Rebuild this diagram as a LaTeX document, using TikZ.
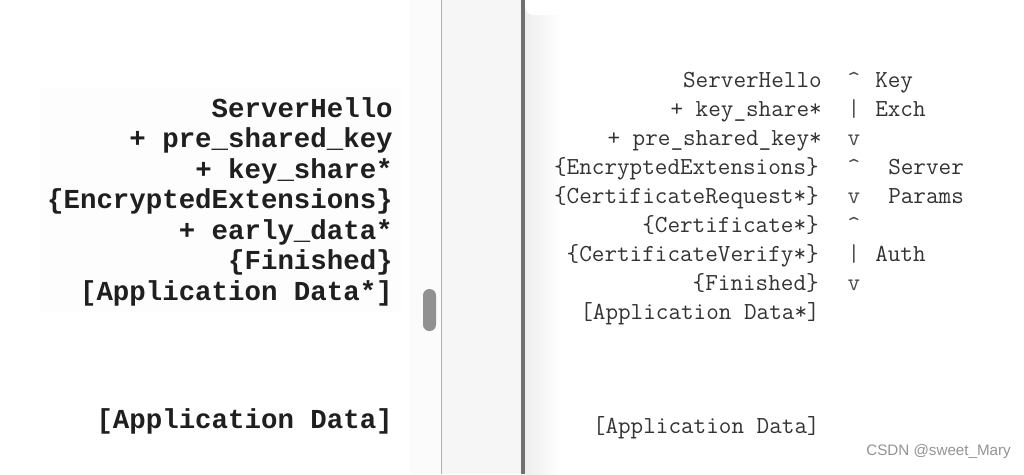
\documentclass[tikz,border=0pt]{standalone}
\usepackage{fontspec}
\newfontfamily\courfont{Liberation Mono}
\newfontfamily\markfont{Liberation Sans}
\usetikzlibrary{positioning}

\begin{document}
\begin{tikzpicture}[x=0.025cm, y=-0.025cm,
	oldmsg/.style={anchor=base east, inner sep=0pt, text=black!88,
		font=\courfont\bfseries\fontsize{19.5}{20}\selectfont},
	newmsg/.style={anchor=base east, inner sep=0pt, text=black!80,
		font=\ttfamily\fontsize{17.4}{18}\selectfont},
	flag/.style={anchor=base, inner sep=0pt, text=black!70,
		font=\ttfamily\fontsize{17.4}{18}\selectfont},
	phase/.style={anchor=base west, inner sep=0pt, text=black!80,
		font=\ttfamily\fontsize{17.4}{18}\selectfont} ]
	\useasboundingbox (0,0) rectangle (1024,474);
	
	%Janelas: fundo, divisoria e barra de rolagem
	\fill[white] (0,0) rectangle (1024,474);
	\fill[black!0.6] (40,88) rectangle (402,312);
	\fill[black!1.5] (410,0) rectangle (441,474);
	\fill[black!3.5] (441,0) rectangle (522,474);
	\draw[black!30, line width=0.7pt] (441,0) -- (441,474);
	\fill[black!56] (521,0) rectangle (525,474);
	\shade[left color=black!7, right color=white] (525,0) rectangle (560,474);
	\fill[white, rounded corners=6pt] (525,-20) rectangle (597,15);
	\fill[black!43, rounded corners=4.5pt] (423,289) rectangle (436,331);
	
	%Lado esquerdo
	\node[oldmsg] (lsh)   at (393,117)   {ServerHello};
	\node[oldmsg] (lpsk)  at (393,147.5) {+ pre\_shared\_key};
	\node[oldmsg] (lks)   at (393,178)   {+ key\_share*};
	\node[oldmsg] (lee)   at (393,208.5) {\{EncryptedExtensions\}};
	\node[oldmsg] (led)   at (393,239)   {+ early\_data*};
	\node[oldmsg] (lfin)  at (393,269.5) {\{Finished\}};
	\node[oldmsg] (lad)   at (393,300)   {[Application Data*]};
	\node[oldmsg] (lapp)  at (393,428)   {[Application Data]};
	
	%Lado direito
	\node[newmsg] (rsh)   at (822,87)    {ServerHello};
	\node[newmsg] (rks)   at (822,116.1) {+ key\_share*};
	\node[newmsg] (rpsk)  at (822,145.2) {+ pre\_shared\_key*};
	\node[newmsg] (ree)   at (819,174.3) {\{EncryptedExtensions\}};
	\node[newmsg] (rcr)   at (819,203.4) {\{CertificateRequest*\}};
	\node[newmsg] (rcert) at (819,232.5) {\{Certificate*\}};
	\node[newmsg] (rcv)   at (819,261.6) {\{CertificateVerify*\}};
	\node[newmsg] (rfin)  at (819,290.7) {\{Finished\}};
	\node[newmsg] (rad)   at (820,319.8) {[Application Data*]};
	\node[newmsg] (rapp)  at (820,433)   {[Application Data]};
	
	%Marcas ^ | v e fases
	\node[flag] (f1) at (854,87)    {\textasciicircum};
	\node[flag] (f2) at (854,116.1) {|};
	\node[flag] (f3) at (854,145.2) {v};
	\node[flag] (f4) at (854,174.3) {\textasciicircum};
	\node[flag] (f5) at (854,203.4) {v};
	\node[flag] (f6) at (854,232.5) {\textasciicircum};
	\node[flag] (f7) at (854,261.6) {|};
	\node[flag] (f8) at (854,290.7) {v};
	\node[phase] (key)  at (875,87)    {Key};
	\node[phase] (exch) at (875,116.1) {Exch};
	\node[phase] (srv)  at (888,174.3) {Server};
	\node[phase] (par)  at (888,203.4) {Params};
	\node[phase] (auth) at (875,261.6) {Auth};
	
	\node[anchor=base west, inner sep=0pt, text=black!42,
		font=\markfont\fontsize{10.8}{12}\selectfont] (wm) at (866,455) {CSDN @sweet\_Mary};
\end{tikzpicture}
\end{document}
